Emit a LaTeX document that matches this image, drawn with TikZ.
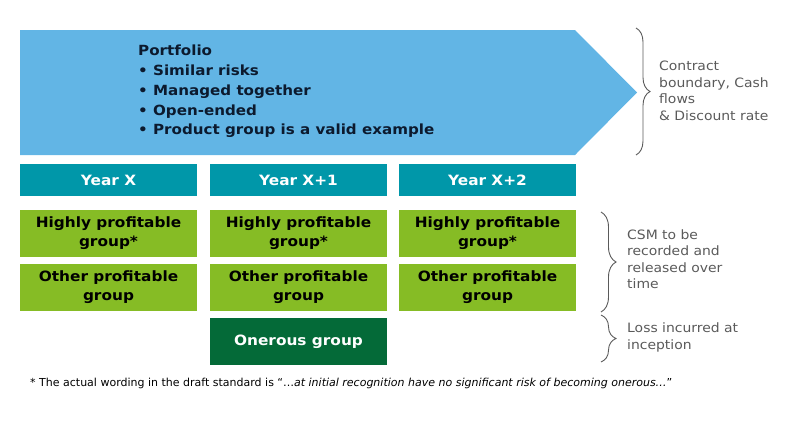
\documentclass[tikz,border=0pt]{standalone}
\usepackage{fontspec,tikz}
\setmainfont{DejaVu Sans}
\newfontfamily\widefont[FakeStretch=1.08]{DejaVu Sans}
\usetikzlibrary{decorations.pathreplacing}
\definecolor{arrowblue}{HTML}{62B5E5}
\definecolor{yearteal}{HTML}{0097A9}
\definecolor{groupgreen}{HTML}{86BC25}
\definecolor{onerousgreen}{HTML}{046A38}
\definecolor{navytext}{HTML}{0C1A2E}
\definecolor{labelgray}{HTML}{5A5A5A}

\begin{document}
\begin{tikzpicture}[x=1pt,y=-1pt,
  yearbox/.style={fill=yearteal,text=white,minimum width=177pt,minimum height=32pt,inner sep=0pt,font=\widefont\fontsize{14.2}{16}\selectfont\bfseries},
  groupbox/.style={fill=groupgreen,text=black,minimum width=177pt,minimum height=47pt,inner sep=0pt,align=center,font=\widefont\fontsize{14.2}{19}\selectfont\bfseries},
  sidelabel/.style={anchor=west,align=left,inner sep=0pt,text=labelgray,font=\widefont\fontsize{12.9}{16.4}\selectfont},
  bracket/.style={draw=labelgray,line width=0.9pt,decorate,decoration={brace,amplitude=#1}}]
\path[use as bounding box] (0,0) rectangle (800,424);
% portfolio arrow
\fill[arrowblue] (20,30) -- (575,30) -- (637,92.5) -- (575,155) -- (20,155) -- cycle;
\node[anchor=west,align=left,inner sep=0pt,text=navytext,font=\widefont\fontsize{14}{19.7}\selectfont\bfseries] (portfolio) at (138,91.5)
  {Portfolio\\• Similar risks\\• Managed together\\• Open-ended\\• Product group is a valid example};
% years
\node[yearbox] (yearx) at (108.5,180) {Year X};
\node[yearbox] (yearx1) at (298.5,180) {Year X+1};
\node[yearbox] (yearx2) at (487.5,180) {Year X+2};
% groups
\node[groupbox] (highx) at (108.5,233.5) {Highly profitable\\group*};
\node[groupbox] (highx1) at (298.5,233.5) {Highly profitable\\group*};
\node[groupbox] (highx2) at (487.5,233.5) {Highly profitable\\group*};
\node[groupbox] (otherx) at (108.5,287.5) {Other profitable\\group};
\node[groupbox] (otherx1) at (298.5,287.5) {Other profitable\\group};
\node[groupbox] (otherx2) at (487.5,287.5) {Other profitable\\group};
\node[groupbox,fill=onerousgreen,text=white] (onerous) at (298.5,341.5) {Onerous group};
% brackets
\draw[bracket=14pt] (636,28) -- (636,155);
\draw[bracket=15pt] (601,212) -- (601,312);
\draw[bracket=15pt] (601,315) -- (601,362);
\node[sidelabel] (boundary) at (659,90.8) {Contract\\boundary, Cash\\flows\\\& Discount rate};
\node[sidelabel] (csm) at (627,259) {CSM to be\\recorded and\\released over\\time};
\node[sidelabel] (loss) at (627,337.5) {Loss incurred at\\inception};
\node[anchor=base west,inner sep=0pt,font=\fontsize{11}{13}\selectfont] (note) at (30,386)
  {* The actual wording in the draft standard is “…\textit{at initial recognition have no significant risk of becoming onerous…}”};
\end{tikzpicture}
\end{document}
